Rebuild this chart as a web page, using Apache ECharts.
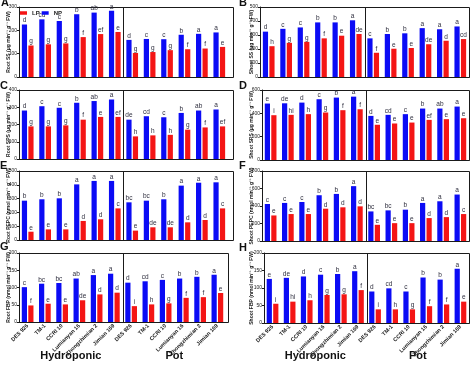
<!DOCTYPE html>
<html><head><meta charset="utf-8">
<script src="https://cdn.jsdelivr.net/npm/echarts@6/dist/echarts.min.js"></script>
<style>html,body{margin:0;padding:0;background:#fff}#c{width:474px;height:366px}</style>
</head><body><div id="c"></div>
<script>
// ---------- categories / labels ----------
const genotypes = ['DES 926','TM-1','CCRI 10','Lumianyan 16','Zhongzhimian 2','Jimian 169'];
const conditions = ['Hydroponic','Pot'];
const seriesNames = ['LP','NP'];
const panelIds = ['A','B','C','D','E','F','G','H'];
const yTitles = ['Root SS (μg min⁻¹ g⁻¹ FW)','Shoot SS (μg min⁻¹ g⁻¹ FW)',
  'Root SPS (μg min⁻¹ g⁻¹ FW)','Shoot SPS (μg min⁻¹ g⁻¹ FW)',
  'Root PEPC (nmol min⁻¹ g⁻¹ FW)','Shoot PEPC (nmol min⁻¹ g⁻¹ FW)',
  'Root FBP (nmol min⁻¹ g⁻¹ FW)','Shoot FBP (nmol min⁻¹ g⁻¹ FW)'];
const yMax = [300,500,400,600,500,800,200,200];
const yStep = [100,100,100,200,100,200,50,50];

// ---------- values (hydroponic x6, then pot x6) ----------
const rootSS_NP  = [225,247,240,269,276,284, 159,163,162,181,185,191];
const rootSS_LP  = [135,140,144,171,184,193, 103,107,115,119,122,129];
const rootSS_NPsig = ['d','cd','c','b','ab','a', 'd','c','c','b','a','a'];
const rootSS_LPsig = ['g','g','g','f','ef','e', 'g','g','g','f','f','e'];

const shootSS_NP = [324,344,354,390,390,405, 276,307,312,349,341,361];
const shootSS_LP = [220,244,251,276,295,307, 173,202,207,234,259,271];
const shootSS_NPsig = ['d','c','c','b','b','a', 'c','b','b','a','a','a'];
const shootSS_LPsig = ['h','g','g','f','e','de', 'f','e','e','de','d','cd'];

const rootSPS_NP = [281,306,297,326,336,345, 228,248,242,267,281,287];
const rootSPS_LP = [189,189,195,228,244,244, 131,137,140,170,183,189];
const rootSPS_NPsig = ['d','c','c','b','ab','a', 'de','cd','c','b','ab','a'];
const rootSPS_LPsig = ['g','g','g','f','e','ef', 'h','h','h','g','f','ef'];

const shootSPS_NP = [484,486,492,521,535,543, 378,387,393,441,441,458];
const shootSPS_LP = [384,387,393,407,427,435, 302,313,321,344,350,358];
const shootSPS_NPsig = ['e','de','d','c','b','a', 'd','cd','c','b','ab','a'];
const shootSPS_LPsig = ['i','hi','h','g','f','f', 'e','e','e','ef','e','e'];

const rootPEPC_NP = [285,295,302,403,428,428, 273,285,295,394,415,418];
const rootPEPC_LP = [60,77,77,138,150,229, 68,92,92,128,145,229];
const rootPEPC_NPsig = ['b','b','b','a','a','a', 'bc','bc','b','a','a','a'];
const rootPEPC_LPsig = ['e','e','e','d','d','c', 'e','de','de','d','d','c'];

const shootPEPC_NP = [423,435,446,523,538,627, 338,350,358,435,454,531];
const shootPEPC_LP = [292,308,308,369,385,396, 185,204,204,262,273,308];
const shootPEPC_NPsig = ['c','c','c','b','b','a', 'bc','bc','b','a','a','a'];
const shootPEPC_LPsig = ['e','e','e','d','d','d', 'e','e','e','d','d','c'];

const rootFBP_NP = [101,111,113,126,136,140, 114,118,122,126,131,137];
const rootFBP_LP = [48,53,51,63,80,85, 46,51,54,70,72,84];
const rootFBP_NPsig = ['c','bc','bc','ab','a','a', 'd','cd','c','b','b','a'];
const rootFBP_LPsig = ['f','e','e','de','d','d', 'i','h','g','f','f','e'];

const shootFBP_NP = [126,129,133,138,140,148, 90,99,90,130,124,155];
const shootFBP_LP = [55,61,65,80,82,94, 39,39,39,48,53,61];
const shootFBP_NPsig = ['e','de','d','c','b','a', 'd','cd','c','b','b','a'];
const shootFBP_LPsig = ['i','hi','h','g','g','f', 'i','h','g','f','f','e'];

const panelData = [
  [rootSS_NP, rootSS_LP, rootSS_NPsig, rootSS_LPsig],
  [shootSS_NP, shootSS_LP, shootSS_NPsig, shootSS_LPsig],
  [rootSPS_NP, rootSPS_LP, rootSPS_NPsig, rootSPS_LPsig],
  [shootSPS_NP, shootSPS_LP, shootSPS_NPsig, shootSPS_LPsig],
  [rootPEPC_NP, rootPEPC_LP, rootPEPC_NPsig, rootPEPC_LPsig],
  [shootPEPC_NP, shootPEPC_LP, shootPEPC_NPsig, shootPEPC_LPsig],
  [rootFBP_NP, rootFBP_LP, rootFBP_NPsig, rootFBP_LPsig],
  [shootFBP_NP, shootFBP_LP, shootFBP_NPsig, shootFBP_LPsig]
];

// ---------- layout (px) ----------
const layout = [
  {x:19,  y:7,   yb:77,  xr:228, fr:233, lx:1,   ly:-3},
  {x:260, y:7,   yb:77,  xr:469, fr:469, lx:239, ly:-3},
  {x:19,  y:90,  yb:159, xr:228, fr:233, lx:0,   ly:80},
  {x:262, y:90,  yb:160, xr:469, fr:469, lx:239, ly:80},
  {x:19,  y:171, yb:240, xr:228, fr:233, lx:0,   ly:160},
  {x:262, y:171, yb:241, xr:469, fr:469, lx:239, ly:160},
  {x:19,  y:253, yb:322, xr:226, fr:228, lx:0,   ly:241},
  {x:264, y:253, yb:323, xr:469, fr:469, lx:239, ly:242}
];
const nameCenterLeft = 9, nameCenterRight = 251.5;

const FONT = '"Liberation Sans", Arial, sans-serif';
const INK = '#1a1a1a';
const BLUE = '#0b0bf5', RED = '#f41515';
const categories = genotypes.concat(genotypes);

const grid = [], xAxis = [], yAxis = [], series = [], graphic = [];
const nameFs = 5;

panelIds.forEach((id, i) => {
  const L = layout[i];
  const bottomRow = i >= 6;
  const nameCenter = (i % 2 === 0) ? nameCenterLeft : nameCenterRight;
  grid.push({left: L.x, top: L.y, width: L.xr - L.x, height: L.yb - L.y,
    show: false, containLabel: false, outerBoundsMode: 'none'});
  xAxis.push({type: 'category', gridIndex: i, data: categories,
    axisLine: {lineStyle: {color: INK, width: 1}},
    axisTick: {alignWithLabel: true, interval: 0, length: 2, lineStyle: {color: INK}},
    axisLabel: {show: bottomRow, interval: 0, rotate: 45, fontSize: 5.5, fontWeight: 'bold',
      margin: 3, color: INK, fontFamily: FONT},
    splitLine: {show: false}
  });
  yAxis.push({type: 'value', gridIndex: i, min: 0, max: yMax[i], interval: yStep[i],
    name: yTitles[i], nameLocation: 'middle', nameRotate: 90, nameMoveOverlap: false,
    nameGap: L.x - nameCenter - nameFs / 2,
    nameTextStyle: {fontSize: nameFs, fontWeight: 'bold', color: INK, fontFamily: FONT},
    axisLine: {show: true, lineStyle: {color: INK, width: 1}},
    axisTick: {show: true, length: 2, lineStyle: {color: INK}},
    axisLabel: {fontSize: 5, margin: 2, color: INK, fontFamily: FONT},
    splitLine: {show: false}
  });
  const [np, lp, npSig, lpSig] = panelData[i];
  const mk = (name, vals, sig, color) => ({
    name, type: 'bar', xAxisIndex: i, yAxisIndex: i, data: vals,
    barWidth: 5.2, barGap: '25%', itemStyle: {color},
    label: {show: true, position: 'top', distance: 0.5, fontSize: 6.5, color: '#2e2e3e',
      fontFamily: FONT, formatter: (p) => sig[p.dataIndex]}
  });
  series.push(mk(seriesNames[1], np, npSig, BLUE));
  series.push(mk(seriesNames[0], lp, lpSig, RED));

  graphic.push({type: 'text', x: L.lx, y: L.ly,
    style: {text: id, font: 'bold 11px ' + FONT, fill: '#111', verticalAlign: 'top'}});

  if (bottomRow) {
    const band = (L.xr - L.x) / categories.length;
    conditions.forEach((c, k) => {
      graphic.push({type: 'text', x: L.x + band * (3 + 6 * k), y: 356,
        style: {text: c, font: 'bold 11px ' + FONT, fill: '#111', align: 'center', verticalAlign: 'middle'}});
    });
  }
});

// frame grids (outer boxes)
panelIds.forEach((id, i) => {
  const L = layout[i];
  const gi = grid.length;
  grid.push({left: L.x + 0.5, top: L.y + 0.5, width: L.fr - L.x, height: L.yb - L.y,
    show: true, borderColor: INK, borderWidth: 1, backgroundColor: 'transparent',
    containLabel: false, outerBoundsMode: 'none'});
  xAxis.push({type: 'value', gridIndex: gi, show: false});
  yAxis.push({type: 'value', gridIndex: gi, show: false});
});

const chart = echarts.init(document.getElementById('c'), null, {renderer: 'canvas'});
chart.setOption({
  animation: false,
  backgroundColor: '#fff',
  legend: {data: seriesNames, left: 20, top: 10, icon: 'rect', itemWidth: 7, itemHeight: 3.5,
    itemGap: 2, padding: 0, textStyle: {fontSize: 6, fontWeight: 'bold', color: INK, fontFamily: FONT}},
  grid, xAxis, yAxis, series, graphic
});

// divider between Hydroponic and Pot, placed from the category axis scale
const dividers = panelIds.map((id, i) => {
  const a = chart.convertToPixel({xAxisIndex: i}, 5);
  const b = chart.convertToPixel({xAxisIndex: i}, 6);
  const xm = Math.round((a + b) / 2) + 0.5;
  const yTop = chart.convertToPixel({yAxisIndex: i}, yMax[i]);
  const yBot = chart.convertToPixel({yAxisIndex: i}, 0);
  return {type: 'line', silent: true, z: 10,
    shape: {x1: xm, y1: yTop, x2: xm, y2: yBot},
    style: {stroke: INK, lineWidth: 1}};
});
chart.setOption({graphic: graphic.concat(dividers)});
</script></body></html>
